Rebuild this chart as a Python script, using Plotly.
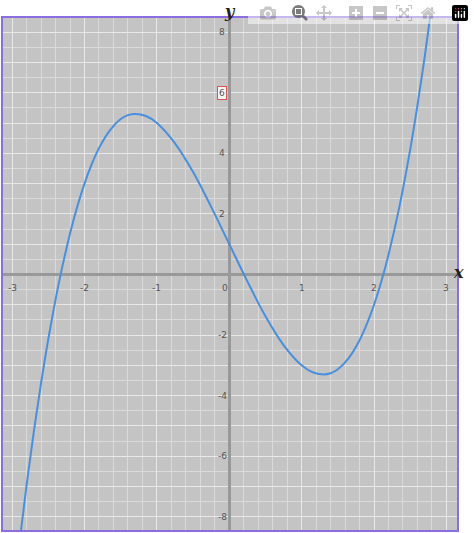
import plotly.graph_objects as go

curve_x = [-2.9, -2.8, -2.7, -2.6, -2.5, -2.35, -2.2, -2.1, -2.0, -1.9, -1.8, -1.65, -1.5, -1.4, -1.3, -1.15, -1.0, -0.75, -0.5, -0.25, 0.0, 0.25, 0.5, 0.75, 1.0, 1.15, 1.3, 1.4, 1.5, 1.65, 1.8, 1.9, 2.0, 2.1, 2.2, 2.35, 2.5, 2.6, 2.7, 2.8]
curve_y = [-8.89, -6.95, -5.18, -3.58, -2.13, -0.23, 1.35, 2.24, 3.0, 3.64, 4.17, 4.76, 5.13, 5.26, 5.3, 5.23, 5.0, 4.33, 3.38, 2.23, 1.0, -0.23, -1.38, -2.33, -3.0, -3.23, -3.3, -3.26, -3.13, -2.76, -2.17, -1.64, -1.0, -0.24, 0.65, 2.23, 4.13, 5.58, 7.18, 8.95]
x_ticks = [-3, -2, -1, 0, 1, 2, 3]
y_ticks = [-8, -6, -4, -2, 2, 4, 6, 8]

fig = go.Figure()
fig.add_trace(go.Scatter(x=curve_x, y=curve_y, mode="lines",
                         line=dict(color="#4a8fdb", width=2, shape="spline"),
                         hoverinfo="skip"))

for v in x_ticks:
    fig.add_annotation(x=v, y=-0.45, text=str(v), showarrow=False,
                       font=dict(size=9, color="#555", family="DejaVu Sans"), xshift=-4 if v == 0 else 0)
for v in y_ticks:
    fig.add_annotation(x=-0.1, y=v, text=str(v), showarrow=False,
                       font=dict(size=9, color="#555", family="DejaVu Sans"),
                       bordercolor="#e05050" if v == 6 else None,
                       bgcolor="#f4f4f4" if v == 6 else None,
                       borderwidth=1 if v == 6 else 0, borderpad=1)
fig.add_annotation(xref="paper", yref="paper", x=1.018, y=0.502, text="<i><b>x</b></i>",
                   showarrow=False, font=dict(size=16, family="DejaVu Serif", color="#222"))
fig.add_annotation(xref="paper", yref="paper", x=0.4995, y=1.033, yanchor="top", text="<i><b>y</b></i>",
                   showarrow=False, font=dict(size=16, family="DejaVu Serif", color="#222"))

ax = dict(showgrid=True, gridcolor="#e8e8e8", gridwidth=1.3,
          zeroline=True, zerolinecolor="#999", zerolinewidth=3,
          showticklabels=False, ticks="", showline=False)
fig.update_xaxes(**ax, range=[-3.14, 3.16], dtick=1,
                 minor=dict(dtick=0.2, showgrid=True, gridcolor="#dadada", gridwidth=1))
fig.update_yaxes(**ax, range=[-8.47, 8.5], dtick=1,
                 minor=dict(dtick=0.5, showgrid=True, gridcolor="#dadada", gridwidth=1))
fig.update_layout(width=474, height=533, margin=dict(l=2, r=16, t=17, b=2),
                  plot_bgcolor="#c4c4c4", paper_bgcolor="white", showlegend=False,
                  shapes=[dict(type="rect", xref="paper", yref="paper", x0=0, y0=0, x1=1, y1=1,
                               line=dict(color="#8a6ee0", width=2))])
fig.write_html("out.html", post_script="document.body.style.margin='0';document.body.style.overflow='hidden';")
